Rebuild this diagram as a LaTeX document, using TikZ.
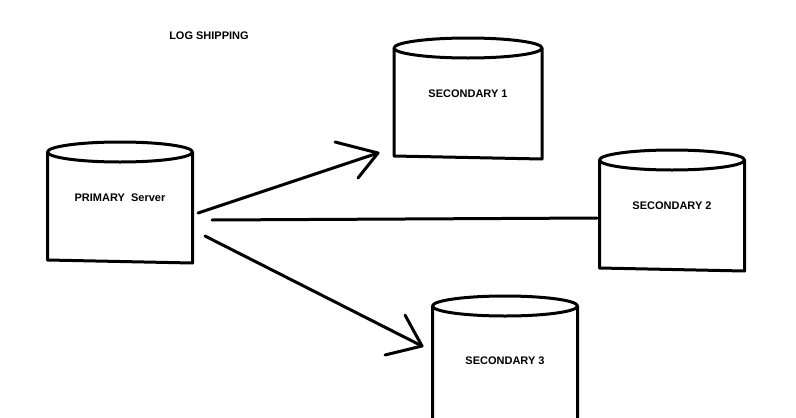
\documentclass[tikz,border=0pt]{standalone}
\usepackage{fontspec}
\setmainfont{Liberation Sans}
\usetikzlibrary{positioning}
\tikzset{
  pen/.style={line width=3pt, line cap=round, line join=round},
  lbl/.style={font=\bfseries\fontsize{11}{13}\selectfont, inner sep=0pt}
}
% cylinder: name, centre x, top y, width, height, label
\newcommand{\dbcyl}[6]{
  \draw[pen] (#2,#3) ellipse [x radius=#4/2, y radius=10] ;
  \draw[pen] (#2-#4/2,#3) -- (#2-#4/2,#3+#5) -- (#2+#4/2,#3+#5+3) -- (#2+#4/2,#3);
  \node[lbl] (#1) at (#2,#3+#5/2-8) {#6};
}
\begin{document}
\begin{tikzpicture}[x=1pt, y=-1pt]
    \useasboundingbox (0,0) rectangle (796,418);
    \node[lbl] (title) at (209,36) {LOG SHIPPING};
    \dbcyl{prim}{120}{152}{145}{108}{PRIMARY\ \ Server}
    \dbcyl{sec1}{468}{48}{148}{108}{SECONDARY 1}
    \dbcyl{sec2}{672}{160}{145}{108}{SECONDARY 2}
    \dbcyl{sec3}{505}{306}{145}{125}{SECONDARY 3}
    \coordinate (p1) at (198,213);
    \coordinate (p2) at (212,220);
    \coordinate (p3) at (205,236);
    \coordinate (t1) at (378,153);
    \coordinate (t2) at (597,218);
    \coordinate (t3) at (422,346);
    \draw[pen] (p1) -- (t1);
    \draw[pen] (335,142) -- (t1) -- (358,178);
    \draw[pen] (p2) -- (t2);
    \draw[pen] (p3) -- (t3);
    \draw[pen] (405,315) -- (t3) -- (385,355);
\end{tikzpicture}
\end{document}
